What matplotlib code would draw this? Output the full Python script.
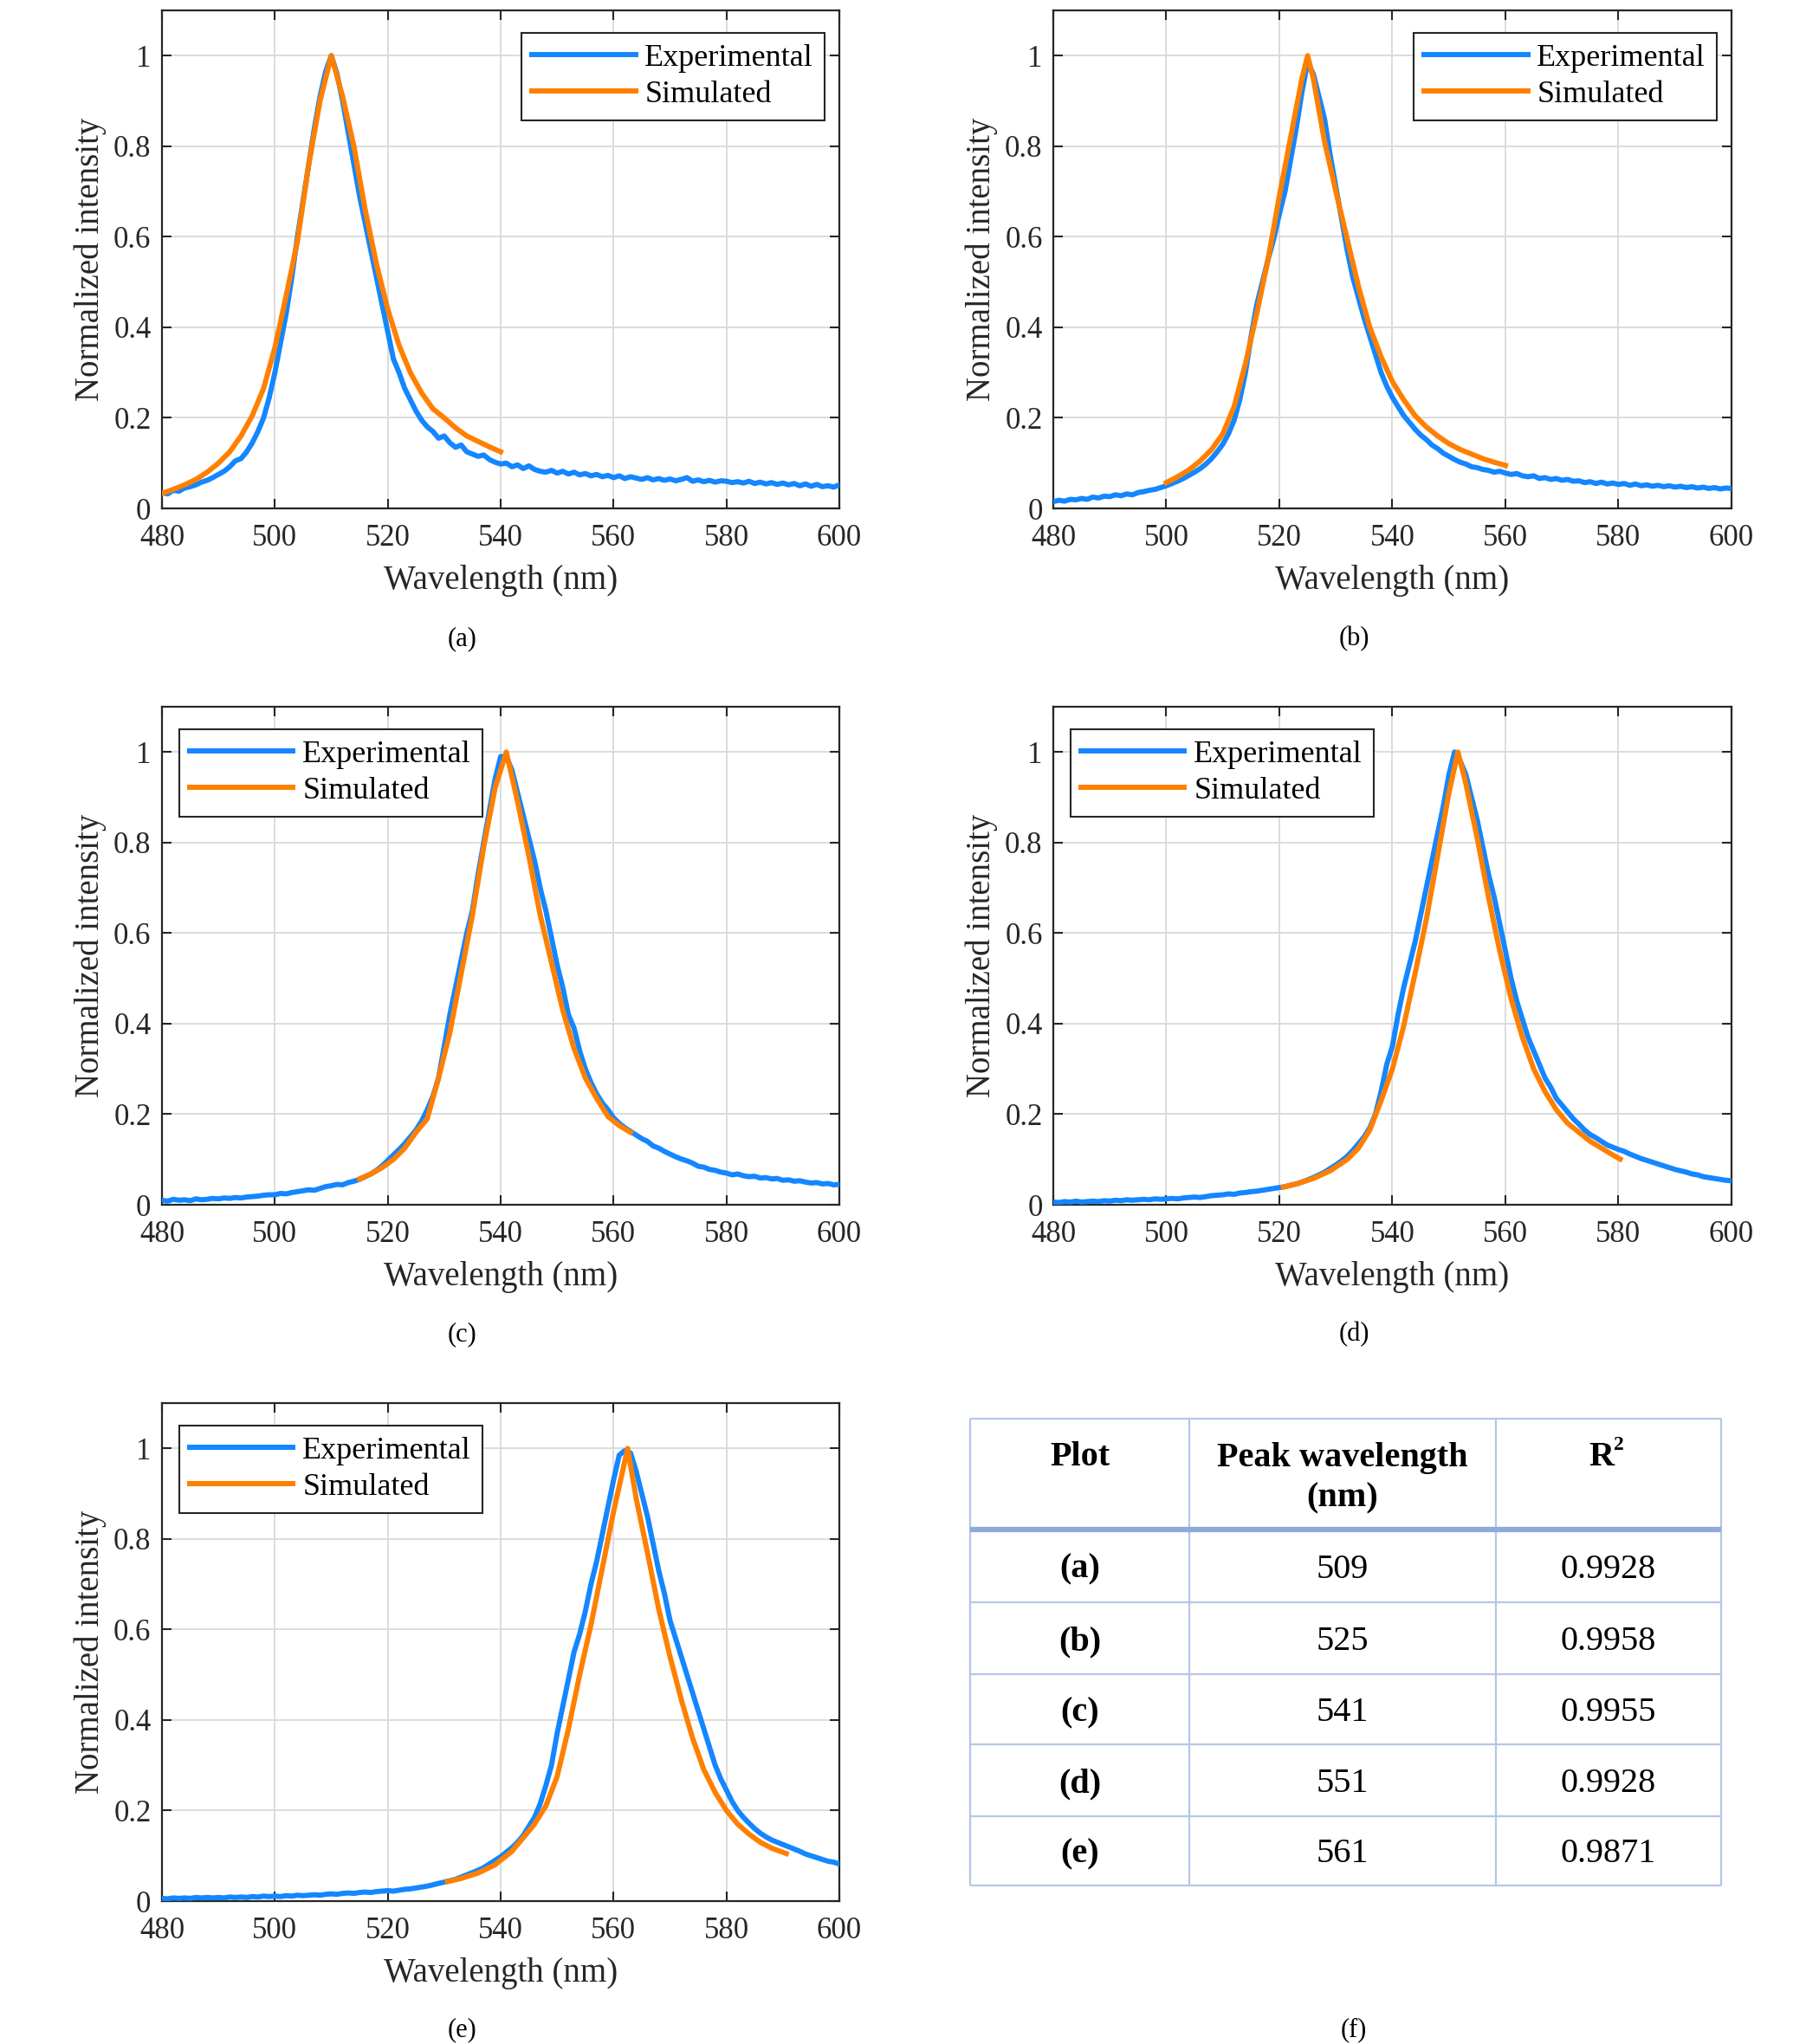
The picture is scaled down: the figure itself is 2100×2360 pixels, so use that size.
import numpy as np
import matplotlib
matplotlib.use('Agg')
import matplotlib.pyplot as plt

plt.rcParams['font.family'] = ['Liberation Serif', 'DejaVu Serif']

# ---- data ----
wl = np.arange(480, 601)   # experimental sampling grid, 1 nm

exp_a = [0.035, 0.032, 0.040, 0.038, 0.045, 0.048, 0.052, 0.058, 0.062, 0.068,
         0.075, 0.082, 0.092, 0.105, 0.110, 0.125, 0.145, 0.170, 0.200, 0.245,
         0.300, 0.365, 0.430, 0.510, 0.600, 0.680, 0.760, 0.840, 0.910, 0.965,
         1.000, 0.960, 0.900, 0.830, 0.760, 0.690, 0.630, 0.570, 0.510, 0.450,
         0.390, 0.330, 0.300, 0.265, 0.240, 0.215, 0.195, 0.180, 0.170, 0.155,
         0.160, 0.145, 0.135, 0.140, 0.125, 0.120, 0.115, 0.118, 0.108, 0.102,
         0.098, 0.100, 0.092, 0.096, 0.088, 0.094, 0.086, 0.082, 0.080, 0.084,
         0.078, 0.082, 0.076, 0.080, 0.074, 0.077, 0.072, 0.075, 0.070, 0.073,
         0.068, 0.072, 0.066, 0.070, 0.067, 0.064, 0.068, 0.063, 0.066, 0.062,
         0.065, 0.061, 0.064, 0.068, 0.060, 0.063, 0.059, 0.062, 0.058, 0.061,
         0.060, 0.057, 0.059, 0.056, 0.060, 0.055, 0.058, 0.054, 0.057, 0.053,
         0.056, 0.052, 0.055, 0.050, 0.054, 0.049, 0.053, 0.048, 0.050, 0.047,
         0.052]

exp_b = [0.015, 0.018, 0.016, 0.020, 0.019, 0.022, 0.020, 0.025, 0.023, 0.027,
         0.026, 0.030, 0.028, 0.032, 0.030, 0.035, 0.037, 0.040, 0.042, 0.046,
         0.050, 0.055, 0.060, 0.066, 0.073, 0.080, 0.088, 0.098, 0.110, 0.125,
         0.142, 0.165, 0.195, 0.240, 0.300, 0.380, 0.450, 0.500, 0.550, 0.595,
         0.650, 0.700, 0.770, 0.840, 0.920, 0.985, 0.960, 0.910, 0.860, 0.780,
         0.710, 0.640, 0.570, 0.510, 0.465, 0.420, 0.380, 0.340, 0.300, 0.270,
         0.245, 0.225, 0.205, 0.190, 0.175, 0.162, 0.152, 0.140, 0.132, 0.122,
         0.115, 0.108, 0.102, 0.098, 0.092, 0.090, 0.086, 0.084, 0.080, 0.082,
         0.078, 0.075, 0.077, 0.072, 0.070, 0.072, 0.066, 0.068, 0.064, 0.066,
         0.062, 0.064, 0.060, 0.061, 0.057, 0.059, 0.055, 0.058, 0.054, 0.056,
         0.053, 0.055, 0.051, 0.054, 0.050, 0.052, 0.049, 0.051, 0.048, 0.050,
         0.047, 0.049, 0.046, 0.048, 0.045, 0.047, 0.044, 0.046, 0.043, 0.045,
         0.044]

exp_c = [0.010, 0.008, 0.012, 0.010, 0.011, 0.009, 0.013, 0.011, 0.012, 0.014,
         0.013, 0.015, 0.014, 0.016, 0.015, 0.017, 0.018, 0.019, 0.021, 0.022,
         0.022, 0.025, 0.024, 0.027, 0.029, 0.031, 0.033, 0.032, 0.036, 0.040,
         0.042, 0.045, 0.044, 0.049, 0.052, 0.056, 0.062, 0.068, 0.076, 0.086,
         0.098, 0.110, 0.122, 0.135, 0.150, 0.165, 0.185, 0.210, 0.240, 0.280,
         0.350, 0.420, 0.480, 0.540, 0.600, 0.650, 0.730, 0.800, 0.870, 0.940,
         0.990, 0.990, 0.960, 0.910, 0.860, 0.810, 0.760, 0.700, 0.650, 0.590,
         0.530, 0.480, 0.420, 0.390, 0.340, 0.300, 0.270, 0.245, 0.225, 0.210,
         0.192, 0.180, 0.170, 0.162, 0.154, 0.146, 0.140, 0.130, 0.125, 0.118,
         0.112, 0.106, 0.101, 0.097, 0.092, 0.085, 0.083, 0.078, 0.076, 0.072,
         0.070, 0.066, 0.068, 0.064, 0.062, 0.063, 0.059, 0.060, 0.057, 0.058,
         0.054, 0.055, 0.052, 0.053, 0.050, 0.048, 0.049, 0.046, 0.047, 0.044,
         0.045]

exp_d = [0.006, 0.005, 0.007, 0.006, 0.008, 0.006, 0.007, 0.008, 0.007, 0.009,
         0.008, 0.010, 0.009, 0.011, 0.010, 0.011, 0.012, 0.011, 0.013, 0.012,
         0.013, 0.014, 0.013, 0.015, 0.016, 0.017, 0.016, 0.018, 0.020, 0.021,
         0.022, 0.024, 0.023, 0.026, 0.027, 0.029, 0.030, 0.032, 0.034, 0.036,
         0.038, 0.040, 0.043, 0.046, 0.050, 0.055, 0.060, 0.066, 0.072, 0.080,
         0.088, 0.097, 0.107, 0.120, 0.135, 0.150, 0.170, 0.200, 0.250, 0.310,
         0.350, 0.420, 0.480, 0.530, 0.580, 0.640, 0.700, 0.760, 0.820, 0.880,
         0.950, 1.000, 0.980, 0.950, 0.900, 0.850, 0.790, 0.730, 0.680, 0.620,
         0.560, 0.500, 0.450, 0.410, 0.370, 0.340, 0.310, 0.280, 0.260, 0.235,
         0.220, 0.205, 0.190, 0.178, 0.165, 0.155, 0.148, 0.140, 0.132, 0.127,
         0.122, 0.118, 0.112, 0.107, 0.102, 0.098, 0.094, 0.090, 0.086, 0.082,
         0.078, 0.075, 0.072, 0.068, 0.066, 0.062, 0.060, 0.058, 0.056, 0.054,
         0.053]

exp_e = [0.006, 0.005, 0.007, 0.006, 0.007, 0.006, 0.008, 0.007, 0.008, 0.007,
         0.008, 0.007, 0.009, 0.008, 0.009, 0.008, 0.010, 0.009, 0.011, 0.010,
         0.011, 0.010, 0.012, 0.011, 0.013, 0.012, 0.013, 0.014, 0.013, 0.015,
         0.016, 0.015, 0.017, 0.018, 0.017, 0.019, 0.020, 0.019, 0.021, 0.022,
         0.023, 0.022, 0.024, 0.026, 0.027, 0.029, 0.031, 0.033, 0.036, 0.039,
         0.042, 0.045, 0.048, 0.053, 0.058, 0.063, 0.068, 0.074, 0.082, 0.090,
         0.098, 0.108, 0.118, 0.130, 0.145, 0.165, 0.185, 0.215, 0.255, 0.300,
         0.370, 0.430, 0.490, 0.550, 0.590, 0.640, 0.700, 0.750, 0.810, 0.870,
         0.930, 0.985, 0.995, 0.990, 0.950, 0.900, 0.850, 0.790, 0.730, 0.680,
         0.620, 0.580, 0.540, 0.500, 0.460, 0.420, 0.380, 0.340, 0.300, 0.270,
         0.245, 0.220, 0.200, 0.185, 0.172, 0.160, 0.150, 0.142, 0.135, 0.130,
         0.125, 0.120, 0.115, 0.110, 0.104, 0.100, 0.096, 0.092, 0.088, 0.086,
         0.082]

# simulated fits (wavelength, intensity)
sim_a_x = [480, 482, 484, 486, 488, 490, 492, 494, 496, 498, 500, 502, 504, 506, 508,
           510, 512, 514, 516, 518, 520, 522, 524, 526, 528, 530, 532, 534, 536, 538, 540]
sim_a_y = [0.033, 0.042, 0.052, 0.064, 0.080, 0.100, 0.125, 0.160, 0.205, 0.265, 0.355,
           0.470, 0.590, 0.760, 0.900, 1.000, 0.910, 0.800, 0.660, 0.540, 0.440, 0.360,
           0.300, 0.255, 0.220, 0.200, 0.178, 0.160, 0.148, 0.136, 0.125]

sim_b_x = [500, 502, 504, 506, 508, 510, 512, 514, 516, 518, 520, 522, 524, 525, 526, 528,
           530, 532, 534, 536, 538, 540, 542, 544, 546, 548, 550, 552, 554, 556, 558, 560]
sim_b_y = [0.057, 0.070, 0.085, 0.105, 0.130, 0.165, 0.225, 0.320, 0.430, 0.550, 0.690,
           0.820, 0.950, 1.000, 0.950, 0.810, 0.700, 0.595, 0.490, 0.400, 0.335, 0.280,
           0.240, 0.205, 0.180, 0.160, 0.143, 0.130, 0.120, 0.110, 0.102, 0.095]

sim_c_x = [515, 517, 519, 521, 523, 525, 527, 529, 531, 533, 535, 537, 539, 541, 543, 545,
           547, 549, 551, 553, 555, 557, 559, 561, 563]
sim_c_y = [0.057, 0.068, 0.082, 0.100, 0.125, 0.160, 0.190, 0.280, 0.380, 0.510, 0.640,
           0.790, 0.920, 1.000, 0.890, 0.770, 0.640, 0.535, 0.430, 0.345, 0.280, 0.235,
           0.195, 0.175, 0.160]

sim_d_x = [520.7, 523, 526, 529, 532, 534, 536, 538, 540, 542, 544, 546, 548, 550, 551.6,
           553, 555, 557, 559, 561, 563, 565, 567, 569, 571, 573, 575, 577, 579, 580.3]
sim_d_y = [0.039, 0.046, 0.058, 0.075, 0.100, 0.125, 0.165, 0.230, 0.300, 0.395, 0.510,
           0.630, 0.770, 0.910, 1.000, 0.930, 0.810, 0.680, 0.560, 0.455, 0.370, 0.300,
           0.250, 0.210, 0.180, 0.160, 0.140, 0.125, 0.110, 0.101]

sim_e_x = [530.6, 533, 536, 539, 542, 544, 546, 548, 550, 552, 554, 556, 558, 560, 562.5,
           564, 566, 568, 570, 572, 574, 576, 578, 580, 582, 584, 586, 588, 590.6]
sim_e_y = [0.043, 0.050, 0.062, 0.080, 0.110, 0.140, 0.170, 0.210, 0.275, 0.380, 0.500,
           0.610, 0.735, 0.860, 1.000, 0.890, 0.770, 0.645, 0.540, 0.445, 0.360, 0.290,
           0.240, 0.200, 0.170, 0.148, 0.130, 0.117, 0.105]

# table (f)
plot_ids = ['(a)', '(b)', '(c)', '(d)', '(e)']
peak_wl = [509, 525, 541, 551, 561]
r_squared = [0.9928, 0.9958, 0.9955, 0.9928, 0.9871]

C_EXP = '#1486FF'
C_SIM = '#FF8000'
W, H = 2100, 2360


def style_axes(ax, exp, sx, sy, leg_loc):
    ax.plot(wl, exp, color=C_EXP, lw=4.3, label='Experimental', zorder=3)
    ax.plot(sx, sy, color=C_SIM, lw=4.3, label='Simulated', zorder=4)
    ax.set_xlim(480, 600)
    ax.set_ylim(0, 1.1)
    ax.set_xticks(range(480, 601, 20))
    ax.set_yticks([0, 0.2, 0.4, 0.6, 0.8, 1.0])
    ax.set_yticklabels(['0', '0.2', '0.4', '0.6', '0.8', '1'])
    ax.grid(True, color='#d9d9d9', lw=1.3)
    ax.set_axisbelow(True)
    ax.tick_params(direction='in', length=8, width=1.5, top=True, right=True,
                   labelsize=25, colors='#262626', pad=9)
    ax.tick_params(axis='x', pad=13)
    for s in ax.spines.values():
        s.set_color('#262626')
        s.set_linewidth(1.6)
    ax.set_xlabel('Wavelength (nm)', fontsize=28, color='#262626', labelpad=10)
    ax.set_ylabel('Normalized intensity', fontsize=28, color='#262626', labelpad=6)
    if leg_loc == 'right':
        anchor, loc = (0.978, 0.955), 'upper right'
    else:
        anchor, loc = (0.025, 0.955), 'upper left'
    leg = ax.legend(loc=loc, bbox_to_anchor=anchor, borderaxespad=0, fontsize=26,
                    fancybox=False, framealpha=1, edgecolor='#262626',
                    handlelength=3.3, handletextpad=0.3, labelspacing=0.25,
                    borderpad=0.35)
    leg.get_frame().set_linewidth(1.5)


fig = plt.figure(figsize=(W / 100, H / 100), dpi=100)

# axes boxes in pixels: (left, top, right, bottom)
boxes = [(187, 12, 969, 587), (1216, 12, 1999, 587),
         (187, 816, 969, 1391), (1216, 816, 1999, 1391),
         (187, 1620, 969, 2195)]
panels = [(exp_a, sim_a_x, sim_a_y, 'right'), (exp_b, sim_b_x, sim_b_y, 'right'),
          (exp_c, sim_c_x, sim_c_y, 'left'), (exp_d, sim_d_x, sim_d_y, 'left'),
          (exp_e, sim_e_x, sim_e_y, 'left')]
for (l, t, r, b), (ex, sx, sy, loc) in zip(boxes, panels):
    ax = fig.add_axes([l / W, (H - b) / H, (r - l) / W, (b - t) / H])
    style_axes(ax, ex, sx, sy, loc)

# overlay in pixel coordinates for captions and table
ov = fig.add_axes([0, 0, 1, 1], zorder=-1)
ov.set_xlim(0, W)
ov.set_ylim(H, 0)
ov.axis('off')

captions = ['(a)', '(b)', '(c)', '(d)', '(e)', '(f)']
cap_pos = [(534, 738), (1563, 738), (534, 1541), (1563, 1541), (534, 2344), (1563, 2344)]
for txt, (cx, cy) in zip(captions, cap_pos):
    ov.text(cx, cy, txt, fontsize=22, ha='center', va='center')

# table
t_left, t_right, t_top = 1120, 1987, 1638
col_x = [t_left, 1373, 1727, t_right]
row_y = [1766, 1850, 1933, 2014, 2097, 2177]
thin = '#B4C7E7'
ov.hlines([t_top] + row_y[1:], t_left, t_right, color=thin, lw=1.6)
ov.vlines(col_x, t_top, row_y[-1], color=thin, lw=1.6)
ov.hlines(row_y[0], t_left, t_right, color='#8EAADB', lw=4.5)

col_c = [(col_x[i] + col_x[i + 1]) / 2 for i in range(3)]
fs = 29
ov.text(col_c[0], 1683, 'Plot', fontsize=fs, fontweight='bold', ha='center', va='center')
ov.text(col_c[1], 1683, 'Peak wavelength', fontsize=fs, fontweight='bold', ha='center', va='center')
ov.text(col_c[1], 1730, '(nm)', fontsize=fs, fontweight='bold', ha='center', va='center')
ov.text(col_c[2] - 8, 1683, 'R', fontsize=fs, fontweight='bold', ha='center', va='center')
ov.text(col_c[2] + 12, 1668, '2', fontsize=17, fontweight='bold', ha='center', va='center')
for i in range(len(plot_ids)):
    yc = (row_y[i] + row_y[i + 1]) / 2 + 4
    ov.text(col_c[0], yc, plot_ids[i], fontsize=fs, fontweight='bold', ha='center', va='center')
    ov.text(col_c[1], yc, str(peak_wl[i]), fontsize=fs, ha='center', va='center')
    ov.text(col_c[2], yc, f'{r_squared[i]:.4f}', fontsize=fs, ha='center', va='center')

fig.savefig('out.png', dpi=100)
